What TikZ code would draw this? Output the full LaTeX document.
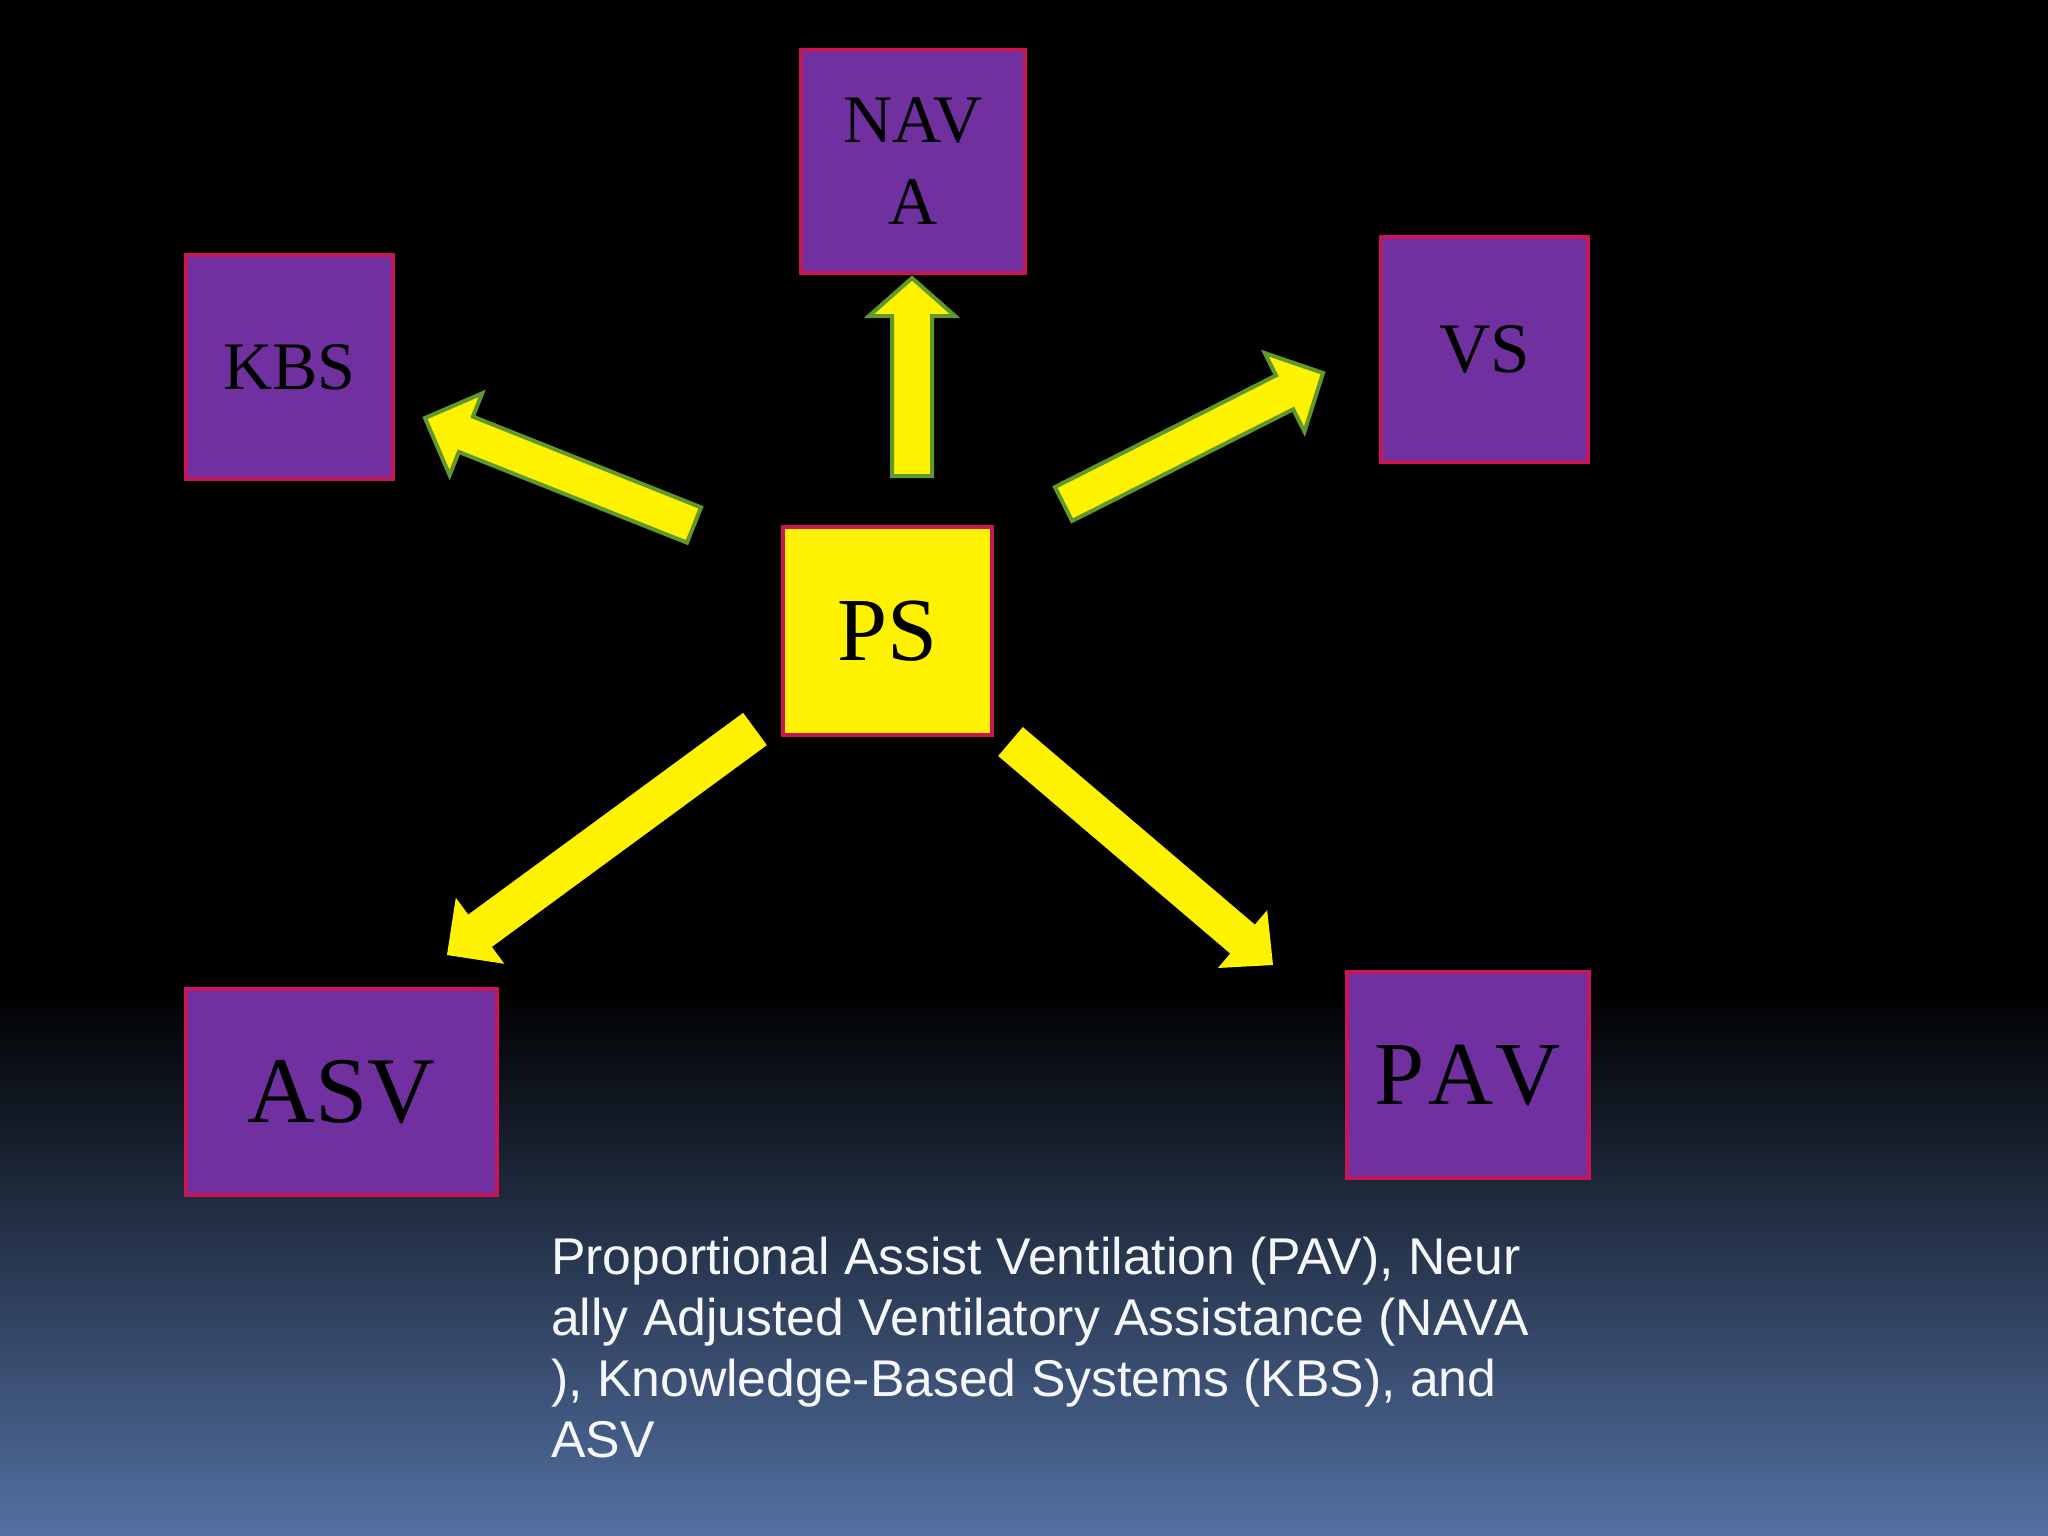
\documentclass[tikz,border=0pt]{standalone}
\usepackage{fontspec}
\usetikzlibrary{calc}
\newfontfamily\boxfont{Liberation Serif}
\newfontfamily\capfont{Liberation Sans}
\definecolor{boxpurple}{RGB}{112,48,160}
\definecolor{boxborder}{RGB}{196,22,88}
\definecolor{arrowgreen}{RGB}{96,152,48}
\definecolor{bgblue}{RGB}{82,112,162}
\definecolor{captext}{RGB}{244,246,250}
\newcommand\blockarrow[6]{% #1 style, #2 tail, #3 tip, #4 half shaft, #5 half head, #6 head length
  \coordinate (ba-base) at ($(#3)!#6!(#2)$);
  \path[#1] ($(#2)!#4!90:(#3)$) -- ($(ba-base)!#4!90:(#3)$) -- ($(ba-base)!#5!90:(#3)$)
    -- (#3) -- ($(ba-base)!#5!-90:(#3)$) -- ($(ba-base)!#4!-90:(#3)$) -- ($(#2)!#4!-90:(#3)$) -- cycle;
}
\tikzset{
  modebox/.style={draw=boxborder, line width=4pt, fill=boxpurple, rectangle,
    inner sep=0pt, outer sep=0pt, text=black, align=center},
  psbox/.style={modebox, fill=yellow},
  outlinedarrow/.style={fill=yellow, draw=arrowgreen, line width=4pt, line join=miter},
  plainarrow/.style={fill=yellow},
  caption/.style={anchor=base west, text=captext, inner sep=0pt,
    font=\capfont\fontsize{51.7}{61}\selectfont}
}
\begin{document}
\begin{tikzpicture}[x=1pt,y=-1pt]
\useasboundingbox (0,0) rectangle (2048,1536);
\fill[black] (0,0) rectangle (2048,1536);
\shade[top color=black, bottom color=bgblue] (0,990) rectangle (2048,1536);

% boxes
\node[modebox, minimum width=224pt, minimum height=223pt,
  font=\boxfont\fontsize{68}{82}\selectfont] (nava) at (913,161.5) {NAV\\A};
\node[modebox, minimum width=207pt, minimum height=224pt,
  font=\boxfont\fontsize{68}{82}\selectfont] (kbs) at (289.5,367) {KBS};
\node[modebox, minimum width=207pt, minimum height=225pt,
  font=\boxfont\fontsize{71}{85}\selectfont] (vs) at (1484.5,349.5) {VS};
\node[psbox, minimum width=209pt, minimum height=208pt,
  font=\boxfont\fontsize{90}{108}\selectfont] (ps) at (887.5,631) {PS};
\node[modebox, minimum width=311pt, minimum height=206pt,
  font=\boxfont\fontsize{94}{112}\selectfont] (asv) at (341.5,1092) {ASV};
\node[modebox, minimum width=242pt, minimum height=206pt,
  font=\boxfont\fontsize{90}{108}\selectfont] (pav) at (1468,1075) {P\kern4pt A\kern2pt V};

% arrow end points
\coordinate (navaT) at (912,476);
\coordinate (navaH) at (912,278);
\coordinate (kbsT) at (694,525);
\coordinate (kbsH) at (425,418);
\coordinate (vsT) at (1063.5,504);
\coordinate (vsH) at (1323,373);
\coordinate (asvT) at (755,729);
\coordinate (asvH) at (447,955);
\coordinate (pavT) at (1010.5,741.5);
\coordinate (pavH) at (1273,965);

% arrows
\blockarrow{outlinedarrow}{navaT}{navaH}{20pt}{43pt}{38pt}
\blockarrow{outlinedarrow}{kbsT}{kbsH}{19pt}{44pt}{44pt}
\blockarrow{outlinedarrow}{vsT}{vsH}{19pt}{44pt}{43pt}
\blockarrow{plainarrow}{asvT}{asvH}{20pt}{41pt}{41pt}
\blockarrow{plainarrow}{pavT}{pavH}{19pt}{38pt}{40pt}

% caption
\node[caption] (cap1) at (551,1274) {Proportional Assist Ventilation (PAV), Neur};
\node[caption] (cap2) at (551,1335) {ally Adjusted Ventilatory Assistance (NAVA};
\node[caption] (cap3) at (551,1396) {), Knowledge-Based Systems (KBS), and};
\node[caption] (cap4) at (551,1457) {ASV};
\end{tikzpicture}
\end{document}
